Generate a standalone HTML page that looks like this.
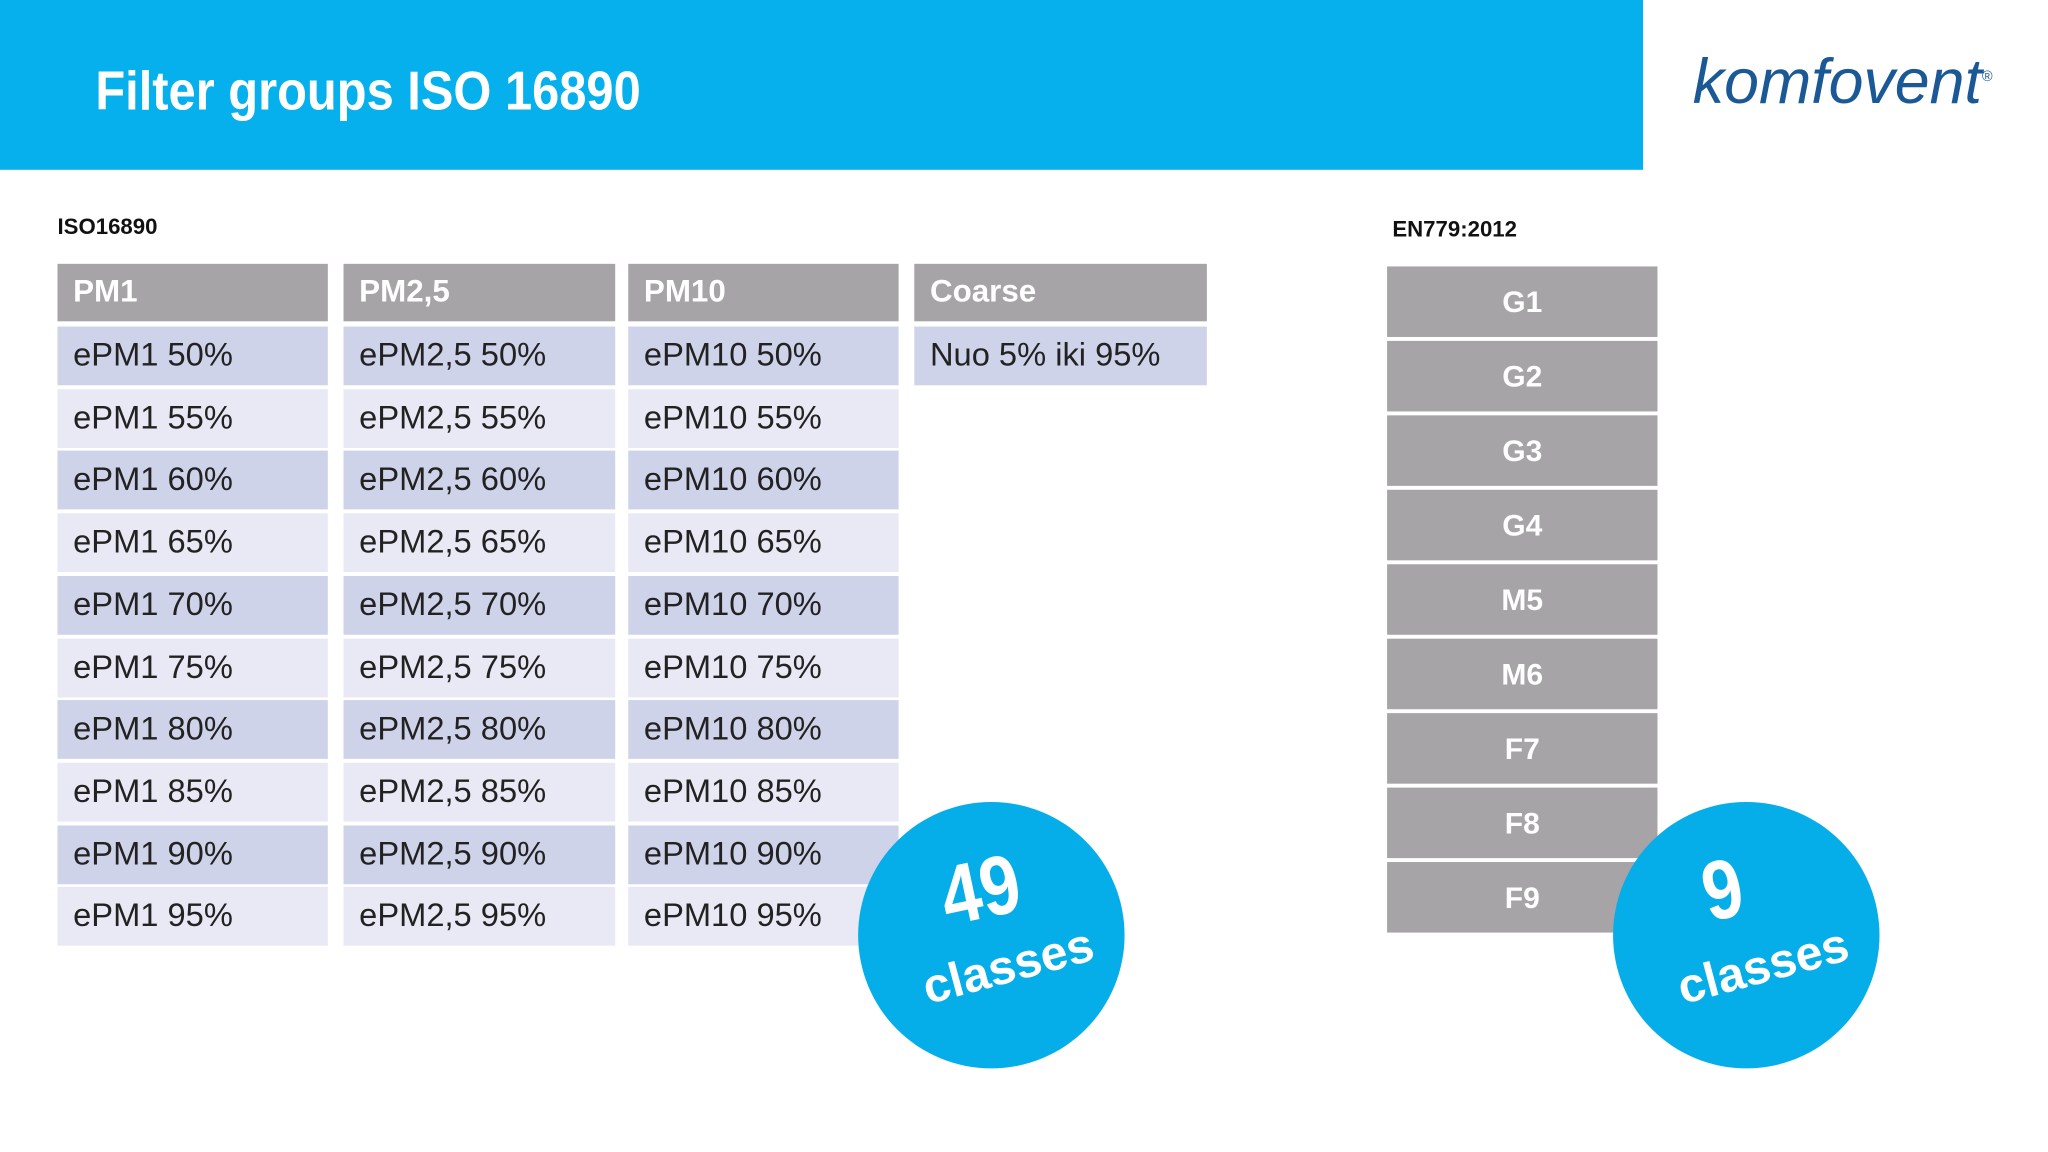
<!DOCTYPE html>
<html><head><meta charset="utf-8"><style>
html,body{margin:0;padding:0;width:2048px;height:1152px;overflow:hidden;background:#fff}
#s{position:absolute;left:0;top:0;width:1568px;height:882px;transform:scale(1.30612,1.30612);transform-origin:0 0;font-family:"Liberation Sans",sans-serif}
.a{position:absolute}
.cell{position:absolute;box-sizing:border-box;padding-left:12px;font-size:25px;color:#222;display:flex;align-items:center}
.hd{background:#a6a4a6;color:#fff;font-weight:bold;font-size:24px}
.en{position:absolute;background:#a6a4a6;color:#fff;font-weight:bold;font-size:23px;display:flex;align-items:center;justify-content:center;width:207px;height:54px;left:1062px}
.circ{position:absolute;width:204px;height:204px;border-radius:50%;background:#05aee9}
.ct{position:absolute;color:#fff;font-weight:bold;transform:rotate(-15deg);white-space:nowrap}
</style></head><body>
<div id="s">
<div class="a" style="left:0;top:0;width:1258px;height:130px;background:#05b0ec"></div>
<div class="a" style="left:73px;top:46px;color:#fff;font-weight:bold;font-size:42px;transform:scaleX(0.89);transform-origin:0 0;white-space:nowrap">Filter groups ISO 16890</div>
<div class="a" style="left:1296px;top:36px;color:#1a5896;font-style:italic;font-size:48px;font-family:'Liberation Sans',sans-serif;letter-spacing:0px">komfovent<sup style="font-size:11px;font-style:normal">®</sup></div>
<div class="a" style="left:44px;top:164px;font-weight:bold;font-size:17px;color:#111">ISO16890</div>
<div class="a" style="left:1066px;top:166px;font-weight:bold;font-size:17px;color:#111">EN779:2012</div>
<div id="iso"></div>
<div id="en"></div>
<div class="circ" style="left:657px;top:614px">
 <div class="ct" style="left:58px;top:30px;font-size:64px;transform:rotate(-12deg) scaleX(0.85)">49</div>
 <div class="ct" style="left:48px;top:105px;font-size:37px">classes</div></div>
<div class="circ" style="left:1235px;top:614px">
 <div class="ct" style="left:66px;top:30px;font-size:64px;transform:rotate(-12deg) scaleX(0.85)">9</div>
 <div class="ct" style="left:48px;top:105px;font-size:37px">classes</div></div>
</div>
<script>
const cols=[["PM1",44,207,"ePM1"],["PM2,5",263,208,"ePM2,5"],["PM10",481,207,"ePM10"]];
const pcts=[50,55,60,65,70,75,80,85,90,95];
const enClasses=["G1","G2","G3","G4","M5","M6","F7","F8","F9"];
const iso=document.getElementById('iso');
function cell(x,y,w,h,txt,cls,bg){const d=document.createElement('div');d.className='cell '+cls;d.style.left=x+'px';d.style.top=y+'px';d.style.width=w+'px';d.style.height=h+'px';if(bg)d.style.background=bg;d.textContent=txt;iso.appendChild(d);return d;}
cols.forEach(c=>{
 const h=cell(c[1],202,c[2],44,c[0],'hd');
 
 
 pcts.forEach((p,i)=>{
  const d=cell(c[1],250+47.7*i,c[2],45,c[3]+' '+p+'%','',i%2?'#e8e9f4':'#cfd3ea');
  
  
 });
});
const ch=cell(700,202,224,44,'Coarse','hd');


const cc=cell(700,250,224,45,'Nuo 5% iki 95%','','#cfd3ea');


const en=document.getElementById('en');
enClasses.forEach((g,i)=>{const d=document.createElement('div');d.className='en';d.style.top=(204+57*i)+'px';d.textContent=g;
 
 
 en.appendChild(d);});
</script>
</body></html>
